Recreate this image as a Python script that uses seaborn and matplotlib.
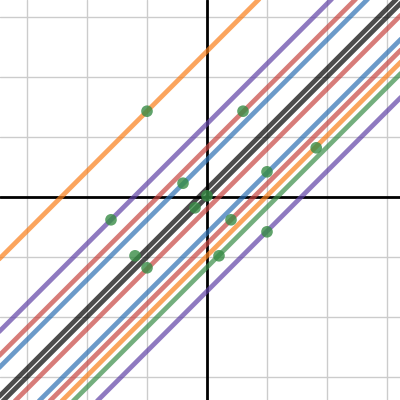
import numpy as np
import pandas as pd
import matplotlib
matplotlib.use("Agg")
import matplotlib.pyplot as plt
import seaborn as sns

intercepts = [2.43, 1.22, 0.82, 0.62, 0.14, 0.0, -0.2, -0.6, -0.78, -0.98, -1.17, -1.57]
colors = ["#fa7e19", "#6042a6", "#c74440", "#2d70b3", "#000000", "#000000",
          "#c74440", "#2d70b3", "#c74440", "#fa7e19", "#388c46", "#6042a6"]
pts_x = [-1.0, 0.6, 1.82, 1.0, -0.4, 0.0, -0.2, -1.6, 0.4, 1.0, -1.2, -1.0, 0.2]
pts_y = [1.43, 1.43, 0.82, 0.42, 0.23, 0.02, -0.18, -0.38, -0.38, -0.58, -0.98, -1.18, -0.98]

xmin, xmax = -207/60, 193/60
ymin, ymax = -203/60, 197/60

sns.set_style("white")
fig = plt.figure(figsize=(4, 4), dpi=100)
ax = fig.add_axes([0, 0, 1, 1])
xs = np.array([xmin - 1, xmax + 1])
for c, col in zip(intercepts, colors):
    df = pd.DataFrame({"x": xs, "y": xs + c})
    sns.lineplot(data=df, x="x", y="y", ax=ax, color=col, lw=3.4, alpha=0.7)
sns.scatterplot(x=pts_x, y=pts_y, ax=ax, color="#388c46", s=70, alpha=0.8, edgecolor="none", zorder=5)
for g in range(-3, 4):
    ax.axvline(g, color="#cccccc", lw=1, zorder=0)
    ax.axhline(g, color="#cccccc", lw=1, zorder=0)
ax.axvline(0, color="black", lw=2, zorder=1)
ax.axhline(0, color="black", lw=2, zorder=1)
ax.set_xlim(xmin, xmax)
ax.set_ylim(ymin, ymax)
ax.set_xticks([]); ax.set_yticks([])
ax.set_xlabel(""); ax.set_ylabel("")
for s in ax.spines.values():
    s.set_visible(False)
fig.savefig("out.png", dpi=100)
